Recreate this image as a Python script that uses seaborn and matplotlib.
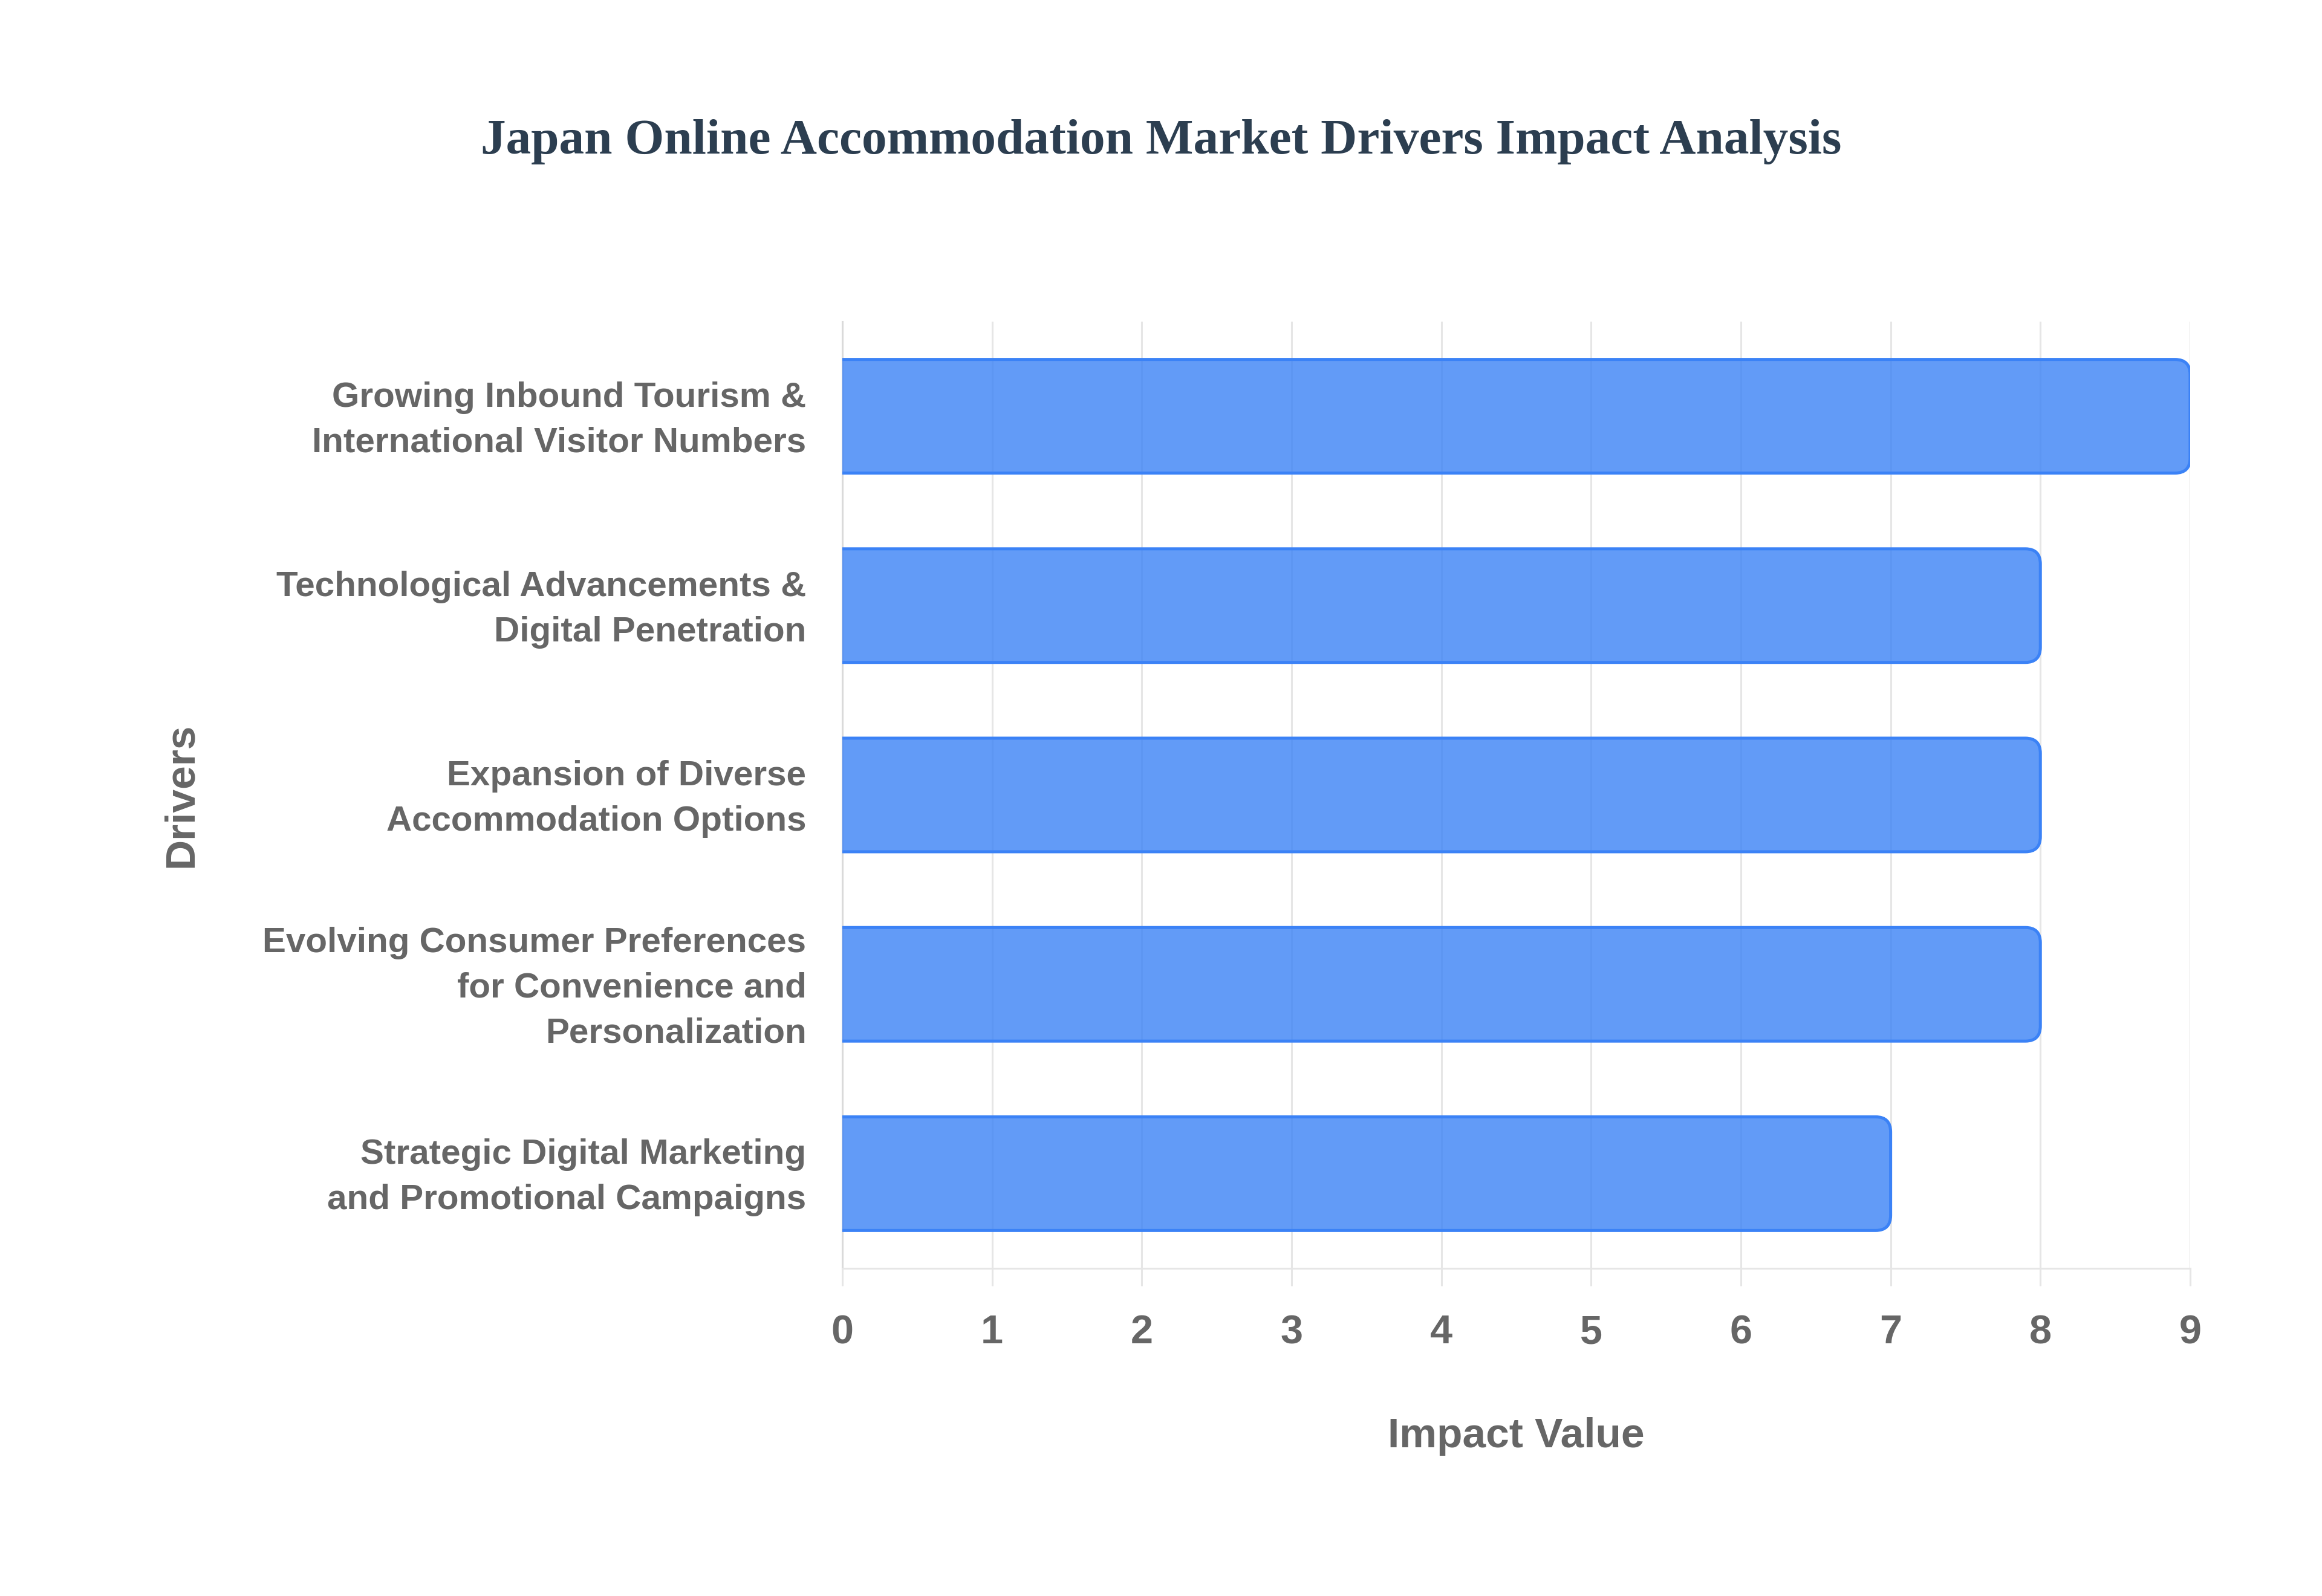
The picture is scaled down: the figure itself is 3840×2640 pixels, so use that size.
import numpy as np
import pandas as pd
import matplotlib
matplotlib.use("Agg")
import matplotlib.pyplot as plt
import matplotlib.transforms as mtransforms
import seaborn as sns
from matplotlib.patches import FancyBboxPatch

# chart data
drivers = [
    "Growing Inbound Tourism &\nInternational Visitor Numbers",
    "Technological Advancements &\nDigital Penetration",
    "Expansion of Diverse\nAccommodation Options",
    "Evolving Consumer Preferences\nfor Convenience and\nPersonalization",
    "Strategic Digital Marketing\nand Promotional Campaigns",
]
impact_values = [9, 8, 8, 8, 7]
x_ticks = [0, 1, 2, 3, 4, 5, 6, 7, 8, 9]

df = pd.DataFrame({"Drivers": drivers, "Impact Value": impact_values})

sns.set_theme(style="white")
plt.rcParams["font.family"] = ["Liberation Sans", "DejaVu Sans"]

grey_text = "#666666"
grid_col = "#E6E6E6"
bar_face = (59 / 255, 130 / 255, 246 / 255, 0.8)
bar_edge = "#3B82F6"

fig = plt.figure(figsize=(19.2, 13.2), dpi=200)
ax = fig.add_axes([0.3628, 0.2053, 0.9432 - 0.3628, 0.7985 - 0.2053])

sns.barplot(data=df, x="Impact Value", y="Drivers", orient="h", width=0.6,
            color=bar_face, ax=ax)

# swap plain bars for ones rounded on the right end
r = 0.1
for p in list(ax.patches):
    x0, y0 = p.get_x(), p.get_y()
    w, h = p.get_width(), p.get_height()
    p.set_visible(False)
    rb = FancyBboxPatch((x0 - 2 * r, y0), w + 2 * r, h,
                        boxstyle=f"round,pad=0,rounding_size={r}",
                        mutation_aspect=0.8,
                        facecolor=bar_face, edgecolor=bar_edge, linewidth=1.8,
                        zorder=3)
    ax.add_patch(rb)

ax.set_xlim(0, 9)
ax.set_ylim(4.5, -0.5)
ax.set_xticks(x_ticks)
ax.set_xticklabels([str(t) for t in x_ticks])

ax.set_axisbelow(True)
ax.xaxis.grid(True, color=grid_col, linewidth=1.1)
ax.yaxis.grid(False)

for s in ["top", "right"]:
    ax.spines[s].set_visible(False)
ax.spines["left"].set_color("#DADADA")
ax.spines["left"].set_linewidth(1.1)
ax.spines["bottom"].set_color(grid_col)
ax.spines["bottom"].set_linewidth(1.1)

ax.tick_params(axis="x", length=10.4, width=1.1, color=grid_col, pad=17,
               labelsize=24, labelcolor=grey_text, bottom=True)
ax.tick_params(axis="y", length=0, pad=21.5, labelsize=21, labelcolor=grey_text)
for lab in ax.get_xticklabels() + ax.get_yticklabels():
    lab.set_fontweight("bold")
nudge = mtransforms.ScaledTranslation(0, 0.05, fig.dpi_scale_trans)
for lab in ax.get_yticklabels():
    lab.set_linespacing(1.5)
    lab.set_transform(lab.get_transform() + nudge)

ax.set_xlabel("Impact Value", fontsize=25, fontweight="bold", color=grey_text,
              labelpad=39)
ax.set_ylabel("Drivers", fontsize=25, fontweight="bold", color=grey_text)
ax.yaxis.set_label_coords(-0.476, 0.5)

fig.suptitle("Japan Online Accommodation Market Drivers Impact Analysis",
             x=0.5, y=0.911, va="center", fontsize=30, fontweight="bold",
             color="#2C3E50", family=["Liberation Serif", "DejaVu Serif"])

fig.savefig("out.png", dpi=200, facecolor="white")
